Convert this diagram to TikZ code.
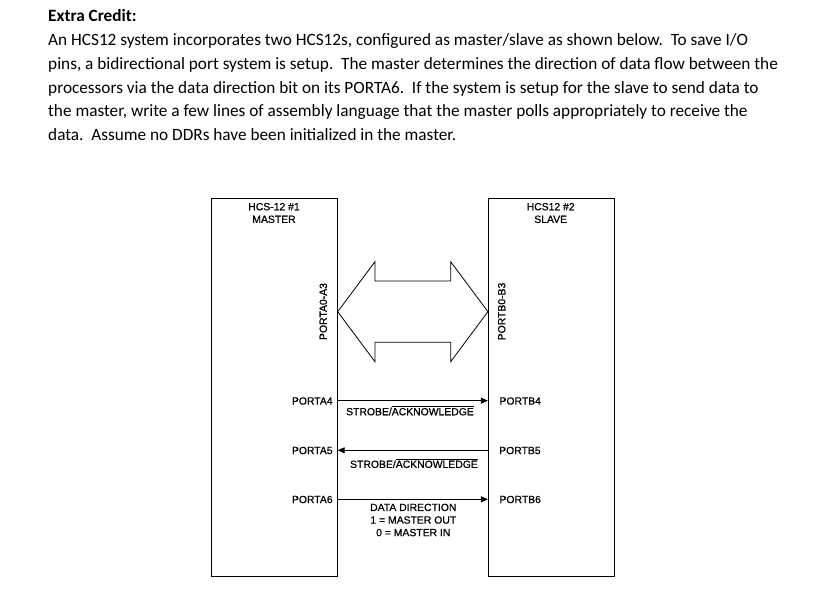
\documentclass[tikz,border=0pt]{standalone}
\usepackage{fontspec}
\setmainfont{Carlito}
\newfontfamily\arialf[FakeBold=0.7]{Liberation Sans}
\usetikzlibrary{arrows.meta}
\tikzset{
  para/.style={anchor=base west, inner sep=0pt, font=\fontsize{17.25}{20}\selectfont},
  chip/.style={draw=black, line width=0.8pt, minimum width=126pt, inner sep=0pt},
  lbl/.style={inner sep=0pt, font=\arialf\fontsize{10.4}{12.5}\selectfont, text=black},
  sig/.style={line width=0.8pt, -{Triangle[length=7pt,width=6pt]}},
  bus/.style={draw=black, line width=0.8pt, line join=miter}
}
\begin{document}
\begin{tikzpicture}[x=1pt,y=-1pt]
\useasboundingbox (0,0) rectangle (833,605);
% paragraph
\node[para, font=\bfseries\fontsize{17.25}{20}\selectfont] (t0) at (48,21) {Extra Credit:};
\node[para] (t1) at (48,45.3) {An HCS12 system incorporates two HCS12s, configured as master/slave as shown below.\ \ To save I/O};
\node[para] (t2) at (48,69.2) {pins, a bidirectional port system is setup.\ \ The master determines the direction of data flow between the};
\node[para] (t3) at (48,93) {processors via the data direction bit on its PORTA6.\ \ If the system is setup for the slave to send data to};
\node[para] (t4) at (48,116.8) {the master, write a few lines of assembly language that the master polls appropriately to receive the};
\node[para] (t5) at (48,140.6) {data.\ \ Assume no DDRs have been initialized in the master.};
% chips
\node[chip, minimum width=125.6pt, minimum height=377.7pt] (master) at (274.5,387.2) {};
\node[chip, minimum width=126pt, minimum height=377.7pt] (slave) at (551.3,387.2) {};
\node[lbl] (mt1) at (274,206.7) {HCS-12 \#1};
\node[lbl] (mt2) at (274,219.3) {MASTER};
\node[lbl] (st1) at (550.7,206.7) {HCS12 \#2};
\node[lbl] (st2) at (550.7,219.3) {SLAVE};
\node[lbl, rotate=90] (pa03) at (323.3,311.5) {PORTA0-A3};
\node[lbl, rotate=90] (pb03) at (501.7,311.5) {PORTB0-B3};
% bus arrow
\draw[bus] (master.east |- 0,311.7) -- (375,261.7) -- (375,281) -- (450.7,281) -- (450.7,261.7) -- (slave.west |- 0,311.7) -- (450.7,361.7) -- (450.7,342.3) -- (375,342.3) -- (375,361.7) -- cycle;
% port coordinates
\coordinate (a4) at (master.east |- 0,400.7);
\coordinate (b4) at (slave.west |- 0,400.7);
\coordinate (a5) at (master.east |- 0,450.3);
\coordinate (b5) at (slave.west |- 0,450.3);
\coordinate (a6) at (master.east |- 0,499.3);
\coordinate (b6) at (slave.west |- 0,499.3);
\draw[sig] (a4) -- (b4);
\draw[sig] (b5) -- (a5);
\draw[sig] (a6) -- (b6);
% port labels
\node[lbl, anchor=east] (la4) at (332.8,401) {PORTA4};
\node[lbl, anchor=east] (la5) at (332.8,450.5) {PORTA5};
\node[lbl, anchor=east] (la6) at (332.8,499.5) {PORTA6};
\node[lbl, anchor=west] (lb4) at (499.3,401) {PORTB4};
\node[lbl, anchor=west] (lb5) at (499,450.5) {PORTB5};
\node[lbl, anchor=west] (lb6) at (499.3,499.5) {PORTB6};
\node[lbl] (s4) at (410,410.7) {STROBE/$\overline{\hbox{ACKNOWLEDGE}}$};
\node[lbl] (s5) at (414,463.3) {STROBE/$\overline{\hbox{ACKNOWLEDGE}}$};
\node[lbl, align=center, font=\arialf\fontsize{10.4}{12.6}\selectfont] (dd) at (413.3,520) {DATA DIRECTION\\1 = MASTER OUT\\0 = MASTER IN};
\end{tikzpicture}
\end{document}
